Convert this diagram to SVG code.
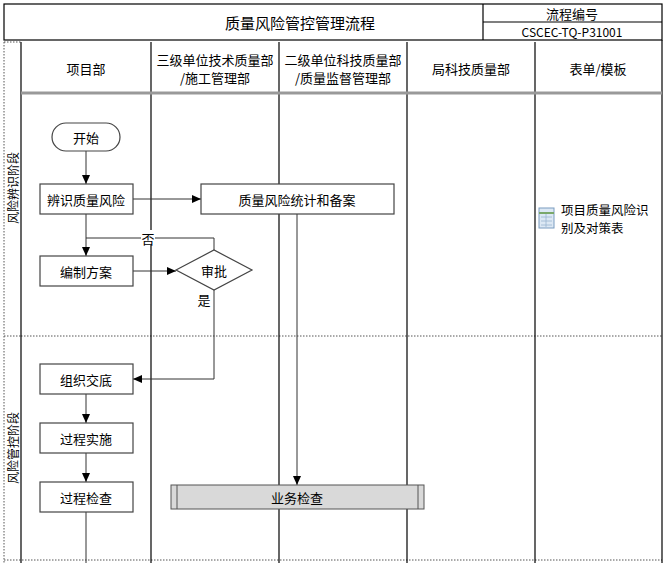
<svg xmlns="http://www.w3.org/2000/svg" width="665" height="563" viewBox="0 0 665 563">
<style>
text{font-family:"Noto Sans CJK SC","Liberation Serif",serif;font-size:13px;fill:#000;text-anchor:middle;dominant-baseline:central}
.box{fill:#fff;stroke:#444;stroke-width:1.2}
.ln{stroke:#000;stroke-width:1.2;fill:none}
.c{stroke:#333;stroke-width:1;fill:none}
.dot{stroke:#555;stroke-width:1;stroke-dasharray:1.5 1.5;fill:none}
</style>
<defs><marker id="a" markerWidth="10" markerHeight="10" refX="9" refY="5" orient="auto" markerUnits="userSpaceOnUse"><path d="M0,1 L9,5 L0,9z" fill="#000"/></marker></defs>
<g id="frame">
<rect x="4" y="4" width="658" height="36" class="ln"/>
<line x1="483" y1="4" x2="483" y2="40" class="ln"/>
<line x1="483" y1="22" x2="662" y2="22" class="ln"/>
<text x="300" y="22" style="font-size:15px">质量风险管控管理流程</text>
<text x="572" y="13">流程编号</text>
<text x="572" y="31" style="font-size:12px">CSCEC-TQ-P31001</text>
<line x1="4" y1="42" x2="4" y2="563" class="dot"/>
<line x1="4" y1="42" x2="21" y2="42" class="dot"/>
<line x1="21" y1="336" x2="662" y2="336" class="dot"/>
<line x1="4" y1="336" x2="21" y2="336" class="dot"/>
<line x1="4" y1="560" x2="662" y2="560" class="dot"/>
<line x1="21" y1="42" x2="21" y2="563" class="ln"/>
<line x1="151" y1="42" x2="151" y2="563" class="ln"/>
<line x1="279" y1="42" x2="279" y2="563" class="ln"/>
<line x1="407" y1="42" x2="407" y2="563" class="ln"/>
<line x1="535" y1="42" x2="535" y2="563" class="ln"/>
<line x1="662" y1="40" x2="662" y2="563" class="ln"/>
<line x1="21" y1="93" x2="662" y2="93" stroke="#999" stroke-width="3"/>
<text x="86" y="68">项目部</text>
<text x="215" y="59">三级单位技术质量部</text>
<text x="215" y="77">/施工管理部</text>
<text x="343" y="59">二级单位科技质量部</text>
<text x="343" y="77">/质量监督管理部</text>
<text x="471" y="68">局科技质量部</text>
<text x="598" y="68">表单/模板</text>
<text transform="translate(12,188) rotate(-90)" style="font-size:12px">风险辨识阶段</text>
<text transform="translate(12,448) rotate(-90)" style="font-size:12px">风险管控阶段</text>
</g>
<g id="connectors">
<line x1="86" y1="151" x2="86" y2="184" class="c" marker-end="url(#a)"/>
<line x1="133" y1="199" x2="201" y2="199" class="c" marker-end="url(#a)"/>
<line x1="86" y1="214" x2="86" y2="256" class="c" marker-end="url(#a)"/>
<line x1="133" y1="271" x2="176" y2="271" class="c" marker-end="url(#a)"/>
<polyline points="214,250 214,238 86,238" class="c"/>
<rect x="141" y="230" width="14" height="15" fill="#fff"/>
<text x="148" y="238">否</text>
<polyline points="214,290 214,379 133,379" class="c" marker-end="url(#a)"/>
<text x="204" y="299">是</text>
<line x1="297" y1="214" x2="297" y2="485" class="c" marker-end="url(#a)"/>
<line x1="86" y1="394" x2="86" y2="423" class="c" marker-end="url(#a)"/>
<line x1="86" y1="453" x2="86" y2="482" class="c" marker-end="url(#a)"/>
<line x1="86" y1="512" x2="86" y2="563" class="c"/>
</g>
<g id="start"><rect x="52" y="123" width="68" height="28" rx="14" class="box"/><text x="86" y="137">开始</text></g>
<g id="identify"><rect x="40" y="184" width="93" height="30" class="box"/><text x="86" y="199">辨识质量风险</text></g>
<g id="record"><rect x="201" y="184" width="193" height="30" class="box"/><text x="297" y="199">质量风险统计和备案</text></g>
<g id="plan"><rect x="40" y="256" width="93" height="30" class="box"/><text x="86" y="271">编制方案</text></g>
<g id="approve"><polygon points="176,270 214,250 252,270 214,290" class="box"/><text x="214" y="270">审批</text></g>
<g id="brief"><rect x="40" y="364" width="93" height="30" class="box"/><text x="86" y="379">组织交底</text></g>
<g id="implement"><rect x="40" y="423" width="93" height="30" class="box"/><text x="86" y="438">过程实施</text></g>
<g id="inspect"><rect x="40" y="482" width="93" height="30" class="box"/><text x="86" y="497">过程检查</text></g>
<g id="bizcheck"><rect x="171" y="485" width="253" height="24" fill="#d9d9d9" stroke="#555"/><line x1="177" y1="485" x2="177" y2="509" stroke="#555"/><line x1="418" y1="485" x2="418" y2="509" stroke="#555"/><text x="297" y="497">业务检查</text></g>
<g id="form">
<rect x="539" y="208" width="15" height="20" fill="#dce8f4" stroke="#7a9cc0"/>
<line x1="539" y1="213" x2="554" y2="213" stroke="#7aa86a" stroke-width="2"/>
<path d="M541,217h11M541,221h11M541,225h11M546,214v13" stroke="#9bb5d0" stroke-width="0.8"/>
<text x="561" y="209" style="text-anchor:start;font-size:12.5px">项目质量风险识</text>
<text x="561" y="227" style="text-anchor:start;font-size:12.5px">别及对策表</text>
</g>
</svg>
